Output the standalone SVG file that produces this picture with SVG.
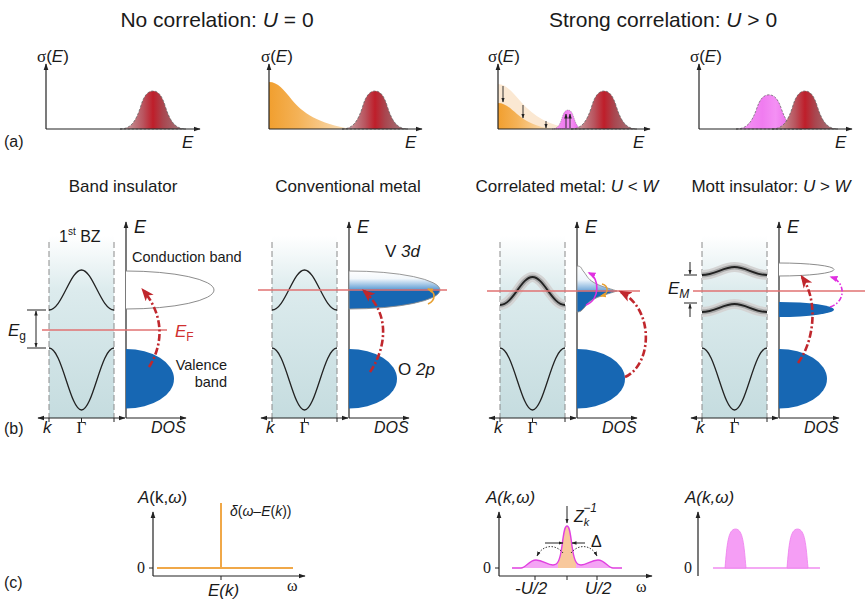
<svg xmlns="http://www.w3.org/2000/svg" width="865" height="602" viewBox="0 0 865 602">
<style>
text{font-family:"Liberation Sans",Arial,sans-serif;fill:#1a1a1a}
.t1{font-size:21px}
.t2{font-size:17px}
.lab{font-size:17px}
.sm{font-size:14.5px}
.it{font-style:italic}
.ser{font-family:"Liberation Serif","Times New Roman",serif}
.ax{stroke:#222;stroke-width:1.2;fill:none}
.tick{stroke:#222;stroke-width:1}
.bzl{stroke:#8a8a8a;stroke-width:1;stroke-dasharray:6 3}
.band{fill:none;stroke:#222;stroke-width:1.3}
.h1{fill:none;stroke:#d4d4d4;stroke-width:10}
.h2{fill:none;stroke:#a8a8a8;stroke-width:5}
.h3{fill:none;stroke:#222;stroke-width:1.8}
.blue{fill:#1767b3}
.outl{fill:#fff;stroke:#8c8c8c;stroke-width:1}
.ef{stroke:#e07272;stroke-width:1.3}
.exc{fill:none;stroke:#c0272d;stroke-width:2.6;stroke-dasharray:7 2.5 2 2.5}
.gaus{stroke:#6a6a6a;stroke-width:0.8;stroke-dasharray:2.5 1.5}
</style>
<defs>
<marker id="ah" viewBox="0 0 10 10" refX="9" refY="5" markerWidth="7" markerHeight="7" markerUnits="userSpaceOnUse" orient="auto-start-reverse"><path d="M0,1.5 L10,5 L0,8.5 Z" fill="#222"/></marker>
<marker id="ahs" viewBox="0 0 10 10" refX="9" refY="5" markerWidth="5" markerHeight="5" markerUnits="userSpaceOnUse" orient="auto-start-reverse"><path d="M0,1.5 L10,5 L0,8.5 Z" fill="#222"/></marker>
<marker id="ahr" viewBox="0 0 10 10" refX="8" refY="5" markerWidth="13" markerHeight="13" markerUnits="userSpaceOnUse" orient="auto"><path d="M0,1 L10,5 L0,9 L2.5,5 Z" fill="#c0272d"/></marker>
<marker id="ahm" viewBox="0 0 10 10" refX="8" refY="5" markerWidth="8" markerHeight="8" markerUnits="userSpaceOnUse" orient="auto"><path d="M0,1 L10,5 L0,9 Z" fill="#e030e0"/></marker>
<marker id="aho" viewBox="0 0 10 10" refX="8" refY="5" markerWidth="6" markerHeight="6" markerUnits="userSpaceOnUse" orient="auto"><path d="M0,1 L10,5 L0,9 Z" fill="#e8a030"/></marker>
<linearGradient id="bz" x1="0" y1="0" x2="0" y2="1"><stop offset="0" stop-color="#ffffff"/><stop offset="0.3" stop-color="#dcebed"/><stop offset="1" stop-color="#c5dcdf"/></linearGradient>
<linearGradient id="red" x1="0" y1="0" x2="1" y2="0"><stop offset="0" stop-color="#cbb4b6"/><stop offset="0.35" stop-color="#b9545e"/><stop offset="0.5" stop-color="#bf1e2a"/><stop offset="0.65" stop-color="#a9454e"/><stop offset="1" stop-color="#a08286"/></linearGradient>
<linearGradient id="pink" x1="0" y1="0" x2="1" y2="0"><stop offset="0" stop-color="#f39af3"/><stop offset="0.4" stop-color="#f07cf0"/><stop offset="0.6" stop-color="#f490f4"/><stop offset="1" stop-color="#e24fe2"/></linearGradient>
<linearGradient id="orng" x1="0" y1="0" x2="1" y2="0"><stop offset="0" stop-color="#f19f2f"/><stop offset="0.35" stop-color="#f4b257"/><stop offset="1" stop-color="#fbe4c4"/></linearGradient>
<linearGradient id="f1" x1="0" y1="0" x2="0" y2="1"><stop offset="0" stop-color="#ffffff"/><stop offset="0.2" stop-color="#f2f7fb"/><stop offset="0.46" stop-color="#6ea6d8"/><stop offset="0.5" stop-color="#1767b3"/><stop offset="1" stop-color="#1767b3"/></linearGradient>
<linearGradient id="f2" x1="0" y1="0" x2="0" y2="1"><stop offset="0" stop-color="#ffffff"/><stop offset="0.3" stop-color="#eef5fb"/><stop offset="0.51" stop-color="#7fb0dc"/><stop offset="0.55" stop-color="#1767b3"/><stop offset="1" stop-color="#1767b3"/></linearGradient>
<path id="gauss" d="M-33,0 C-22,0 -17,-8 -12.5,-22 C-9,-34 -5,-38 0,-38 C5,-38 9,-34 12.5,-22 C17,-8 22,0 33,0 Z"/>
<g id="bzframe">
<rect x="0" y="236" width="65" height="182" fill="url(#bz)"/>
<line class="bzl" x1="0" y1="242" x2="0" y2="418"/>
<line class="bzl" x1="65" y1="242" x2="65" y2="418"/>
<line class="ax" x1="77" y1="418" x2="77" y2="222" marker-end="url(#ah)"/>
<line class="ax" x1="-11" y1="418" x2="76" y2="418" marker-start="url(#ah)" marker-end="url(#ah)"/>
<line class="ax" x1="77" y1="418" x2="137" y2="418" marker-end="url(#ah)"/>
<line class="tick" x1="0" y1="418" x2="0" y2="422"/>
<line class="tick" x1="32.5" y1="418" x2="32.5" y2="422"/>
<line class="tick" x1="65" y1="418" x2="65" y2="422"/>
<text x="-6" y="433" class="lab it">k</text>
<text x="32.5" y="433" class="lab ser" text-anchor="middle">Γ</text>
<text x="102" y="433" class="it" font-size="16">DOS</text>
<text x="85" y="233" class="it" font-size="18">E</text>
<path class="band" d="M0,348 C13,348 21,410 32.5,410 C44,410 52,348 65,348"/>
<path class="blue" d="M77,349 A48,29.8 0 0 1 77,408.6 Z"/>
</g>
</defs>

<g id="titles">
<text x="217" y="27" class="t1" text-anchor="middle">No correlation: <tspan class="it">U</tspan> = 0</text>
<text x="663" y="27" class="t1" text-anchor="middle">Strong correlation: <tspan class="it">U</tspan> &gt; 0</text>
<text x="4" y="147" font-size="16">(a)</text>
<text x="4" y="434" font-size="16">(b)</text>
<text x="4" y="588" font-size="16">(c)</text>
</g>

<g id="panel-a1">
<use href="#gauss" transform="translate(153,129)" fill="url(#red)" class="gaus"/>
<line class="ax" x1="46" y1="129" x2="46" y2="64" marker-end="url(#ah)"/>
<line class="ax" x1="46" y1="129" x2="200" y2="129" marker-end="url(#ah)"/>
<text x="37" y="62" class="lab"><tspan class="ser">σ</tspan>(<tspan class="it">E</tspan>)</text>
<text x="182" y="148" class="lab it">E</text>
</g>

<g id="panel-a2">
<path d="M269,129 L269,82 C278,82 284,90 292,100 C302,112 318,124 352,129 Z" fill="url(#orng)"/>
<use href="#gauss" transform="translate(375,129)" fill="url(#red)" class="gaus"/>
<line class="ax" x1="269" y1="129" x2="269" y2="64" marker-end="url(#ah)"/>
<line class="ax" x1="269" y1="129" x2="422" y2="129" marker-end="url(#ah)"/>
<text x="261" y="62" class="lab"><tspan class="ser">σ</tspan>(<tspan class="it">E</tspan>)</text>
<text x="405" y="148" class="lab it">E</text>
</g>

<g id="panel-a3">
<path d="M498,129 L498,84 C506,84 512,92 522,103 C534,116 548,125 572,129 Z" fill="#fbe8d2"/>
<path d="M498,129 L498,103 C505,103 510,108 517,114 C526,122 538,127 552,129 Z" fill="url(#orng)"/>
<use href="#gauss" transform="translate(568,129) scale(0.48,0.5)" fill="url(#pink)" class="gaus" vector-effect="non-scaling-stroke"/>
<use href="#gauss" transform="translate(604,129)" fill="url(#red)" class="gaus"/>
<line stroke="#222" stroke-width="0.9" x1="503" y1="86" x2="503" y2="102" marker-end="url(#ahs)"/>
<line stroke="#222" stroke-width="0.9" x1="523" y1="105" x2="523" y2="118" marker-end="url(#ahs)"/>
<line stroke="#222" stroke-width="0.9" x1="546" y1="121" x2="546" y2="128" marker-end="url(#ahs)"/>
<line stroke="#222" stroke-width="0.9" x1="566" y1="128" x2="566" y2="114" marker-end="url(#ahs)"/>
<line stroke="#222" stroke-width="0.9" x1="570" y1="128" x2="570" y2="114" marker-end="url(#ahs)"/>
<line class="ax" x1="498" y1="129" x2="498" y2="64" marker-end="url(#ah)"/>
<line class="ax" x1="498" y1="129" x2="650" y2="129" marker-end="url(#ah)"/>
<text x="488" y="62" class="lab"><tspan class="ser">σ</tspan>(<tspan class="it">E</tspan>)</text>
<text x="633" y="148" class="lab it">E</text>
</g>

<g id="panel-a4">
<use href="#gauss" transform="translate(769,129) scale(1,0.9)" fill="url(#pink)" class="gaus" vector-effect="non-scaling-stroke"/>
<use href="#gauss" transform="translate(805,129)" fill="url(#red)" class="gaus"/>
<line class="ax" x1="699" y1="129" x2="699" y2="64" marker-end="url(#ah)"/>
<line class="ax" x1="699" y1="129" x2="852" y2="129" marker-end="url(#ah)"/>
<text x="690" y="62" class="lab"><tspan class="ser">σ</tspan>(<tspan class="it">E</tspan>)</text>
<text x="835" y="148" class="lab it">E</text>
</g>

<g id="panel-b-band-insulator">
<text x="123" y="192" class="t2" text-anchor="middle">Band insulator</text>
<g transform="translate(49,0)">
<use href="#bzframe"/>
<path class="band" d="M0,310 C13,310 21,270 32.5,270 C44,270 52,310 65,310"/>
<path class="outl" d="M77,271 A88,19 0 0 1 77,309"/>
<text x="10" y="242" font-size="16">1<tspan font-size="10" dy="-7">st</tspan><tspan dy="7"> BZ</tspan></text>
</g>
<line class="tick" x1="27" y1="310" x2="46" y2="310"/>
<line class="tick" x1="27" y1="348" x2="46" y2="348"/>
<line class="tick" x1="36" y1="330" x2="36" y2="311" marker-end="url(#ahs)"/>
<line class="tick" x1="36" y1="330" x2="36" y2="347" marker-end="url(#ahs)"/>
<text x="8" y="336" class="lab it">E<tspan font-size="12" font-style="normal" dy="4">g</tspan></text>
<line class="ef" x1="42" y1="330" x2="167" y2="330"/>
<text x="175" y="337" class="lab it" style="fill:#d03030">E<tspan font-size="12" font-style="normal" dy="4" style="fill:#d03030">F</tspan></text>
<text x="132" y="262" class="sm">Conduction band</text>
<text x="227" y="370" class="sm" text-anchor="end">Valence</text>
<text x="227" y="387" class="sm" text-anchor="end">band</text>
</g>

<g id="panel-b-conventional-metal">
<text x="348" y="192" class="t2" text-anchor="middle">Conventional metal</text>
<g transform="translate(272,0)">
<use href="#bzframe"/>
<path class="band" d="M0,310 C13,310 21,270 32.5,270 C44,270 52,310 65,310"/>
<path d="M77,271 A91,19 0 0 1 77,309 Z" fill="url(#f1)" stroke="#8c8c8c" stroke-width="0.9"/>
</g>
<line class="ef" x1="258" y1="290" x2="447" y2="290"/>
<text x="385" y="257" class="lab">V <tspan class="it">3d</tspan></text>
<text x="398" y="375" class="lab">O <tspan class="it">2p</tspan></text>
</g>

<g id="panel-b-correlated-metal">
<text x="567" y="192" class="t2" text-anchor="middle">Correlated metal: <tspan class="it">U</tspan> &lt; <tspan class="it">W</tspan></text>
<g transform="translate(500,0)">
<use href="#bzframe"/>
<path class="h1" d="M0,305 C13,305 21,277 32.5,277 C44,277 52,305 65,305"/>
<path class="h2" d="M0,305 C13,305 21,277 32.5,277 C44,277 52,305 65,305"/>
<path class="h3" d="M0,305 C13,305 21,277 32.5,277 C44,277 52,305 65,305"/>
<path d="M77,266 C82,266 81,269 84,272 C87,276 88,279 93,282 C99,286 108,288 117,291 C108,294 99,296 92,300 C87,303 85,308 81,311 C79,312 78,312 77,312 Z" fill="url(#f2)" stroke="#8c8c8c" stroke-width="0.9"/>
</g>
<line class="ef" x1="487" y1="291" x2="640" y2="291"/>
</g>

<g id="panel-b-mott-insulator">
<text x="771" y="192" class="t2" text-anchor="middle">Mott insulator: <tspan class="it">U</tspan> &gt; <tspan class="it">W</tspan></text>
<g transform="translate(702,0)">
<use href="#bzframe"/>
<path class="h1" d="M0,275 C13,275 21,267 32.5,267 C44,267 52,275 65,275"/>
<path class="h2" d="M0,275 C13,275 21,267 32.5,267 C44,267 52,275 65,275"/>
<path class="h3" d="M0,275 C13,275 21,267 32.5,267 C44,267 52,275 65,275"/>
<path class="h1" d="M0,312 C13,312 21,304 32.5,304 C44,304 52,312 65,312"/>
<path class="h2" d="M0,312 C13,312 21,304 32.5,304 C44,304 52,312 65,312"/>
<path class="h3" d="M0,312 C13,312 21,304 32.5,304 C44,304 52,312 65,312"/>
<path class="outl" d="M77,263 A55,6.5 0 0 1 77,276"/>
<path class="blue" d="M77,302 A55,7.5 0 0 1 77,317 Z"/>
</g>
<line class="ef" x1="693" y1="291" x2="865" y2="291"/>
<line class="tick" x1="684" y1="275" x2="697" y2="275"/>
<line class="tick" x1="684" y1="303" x2="697" y2="303"/>
<line class="tick" x1="690" y1="262" x2="690" y2="274" marker-end="url(#ahs)"/>
<line class="tick" x1="690" y1="317" x2="690" y2="304" marker-end="url(#ahs)"/>
<text x="668" y="294" class="lab it">E<tspan font-size="12" dy="4">M</tspan></text>
</g>

<g id="connectors">
<path class="exc" d="M149,367 C160,350 168,320 143,290" marker-end="url(#ahr)"/>
<path class="exc" d="M370,372 C385,350 392,315 364,291" marker-end="url(#ahr)"/>
<path fill="none" stroke="#e8a030" stroke-width="1.6" d="M428,304 C436,300 436,292 428,289" marker-end="url(#aho)"/>
<path class="exc" d="M625,377 C652,365 655,310 621,292" marker-end="url(#ahr)"/>
<path fill="none" stroke="#e030e0" stroke-width="1.6" d="M586,305 C600,300 600,278 589,273" marker-end="url(#ahm)"/>
<path fill="none" stroke="#e8a030" stroke-width="1.4" d="M602,284 C609,286 609,294 601,296" marker-end="url(#aho)"/>
<path class="exc" d="M798,363 C815,340 818,300 802,277" marker-end="url(#ahr)"/>
<path fill="none" stroke="#e030e0" stroke-width="1.6" stroke-dasharray="5 2 1.5 2" d="M830,307 C846,302 846,282 831,277" marker-end="url(#ahm)"/>
</g>

<g id="panel-c1">
<line class="ax" x1="153" y1="576" x2="153" y2="512" marker-end="url(#ah)"/>
<line class="ax" x1="153" y1="576" x2="305" y2="576" marker-end="url(#ah)"/>
<line class="tick" x1="149" y1="568" x2="153" y2="568"/>
<line class="tick" x1="221" y1="576" x2="221" y2="580"/>
<line stroke="#f0a848" stroke-width="2" x1="157" y1="568" x2="293" y2="568"/>
<line stroke="#f0a848" stroke-width="2" x1="221" y1="503" x2="221" y2="568"/>
<text x="138" y="503" class="lab"><tspan class="it">A</tspan>(k,<tspan class="it">ω</tspan>)</text>
<text x="230" y="516" font-size="14"><tspan class="it">δ</tspan>(<tspan class="it">ω</tspan>–<tspan class="it">E</tspan>(<tspan class="it">k</tspan>))</text>
<text x="137" y="573" class="ser" font-size="16">0</text>
<text x="208" y="596" class="lab it">E(k)</text>
<text x="287" y="591" class="ser" font-size="16">ω</text>
</g>

<g id="panel-c2">
<path d="M512,568 L521,568 C526,568 529,560 536,560 C543,560 547,565 553,565 C558,565 560,560 562,546 C564,530 565,526 567,526 C569,526 570,530 572,546 C574,560 576,565 581,565 C587,565 591,560 598,560 C605,560 608,568 613,568 L622,568 Z" fill="#f4a4f4"/>
<path d="M558,568 L558,563 C560,559 561,553 562,546 C564,530 565,526 567,526 C569,526 570,530 572,546 C573,553 574,559 576,563 L576,568 Z" fill="#f8c89c"/>
<path d="M512,568 L521,568 C526,568 529,560 536,560 C543,560 547,565 553,565 C558,565 560,560 562,546 C564,530 565,526 567,526 C569,526 570,530 572,546 C574,560 576,565 581,565 C587,565 591,560 598,560 C605,560 608,568 613,568 L622,568" fill="none" stroke="#e040e0" stroke-width="1.4"/>
<line class="ax" x1="499" y1="576" x2="499" y2="512" marker-end="url(#ah)"/>
<line class="ax" x1="499" y1="576" x2="652" y2="576" marker-end="url(#ah)"/>
<line class="tick" x1="495" y1="568" x2="499" y2="568"/>
<line class="tick" x1="535" y1="576" x2="535" y2="580"/>
<line class="tick" x1="567" y1="576" x2="567" y2="580"/>
<line class="tick" x1="597" y1="576" x2="597" y2="580"/>
<line class="tick" x1="567" y1="506" x2="567" y2="523" marker-end="url(#ahs)"/>
<line class="tick" x1="545" y1="543" x2="563" y2="543" marker-end="url(#ahs)"/>
<line class="tick" x1="585" y1="543" x2="572" y2="543" marker-end="url(#ahs)"/>
<path d="M563,553 C556,544 543,544 537,556" fill="none" stroke="#222" stroke-width="0.9" stroke-dasharray="1.5 1.5" marker-end="url(#ahs)"/>
<path d="M571,553 C578,544 591,544 597,556" fill="none" stroke="#222" stroke-width="0.9" stroke-dasharray="1.5 1.5" marker-end="url(#ahs)"/>
<text x="486" y="503" class="lab it">A(k,ω)</text>
<text x="574" y="522" class="it" font-size="16">Z<tspan font-size="11" dy="4">k</tspan><tspan font-size="12" dx="-6" dy="-14">−1</tspan></text>
<text x="591" y="547" font-size="16">Δ</text>
<text x="483" y="573" class="ser" font-size="16">0</text>
<text x="515" y="594" class="lab it">-U/2</text>
<text x="585" y="594" class="lab it">U/2</text>
<text x="636" y="592" class="ser" font-size="16">ω</text>
</g>

<g id="panel-c3">
<line stroke="#f08cf0" stroke-width="1.5" x1="713" y1="568" x2="820" y2="568"/>
<path d="M725,568 C727,545 728,529 735.5,529 C743,529 744,545 746,568 Z" fill="#f59ef5" stroke="#ee80ee" stroke-width="0.8"/>
<path d="M787,568 C789,545 790,529 797.5,529 C805,529 806,545 808,568 Z" fill="#f59ef5" stroke="#ee80ee" stroke-width="0.8"/>
<line class="ax" x1="698" y1="576" x2="698" y2="512" marker-end="url(#ah)"/>
<text x="685" y="503" class="lab it">A(k,ω)</text>
<text x="684" y="573" class="ser" font-size="16">0</text>
</g>
</svg>
